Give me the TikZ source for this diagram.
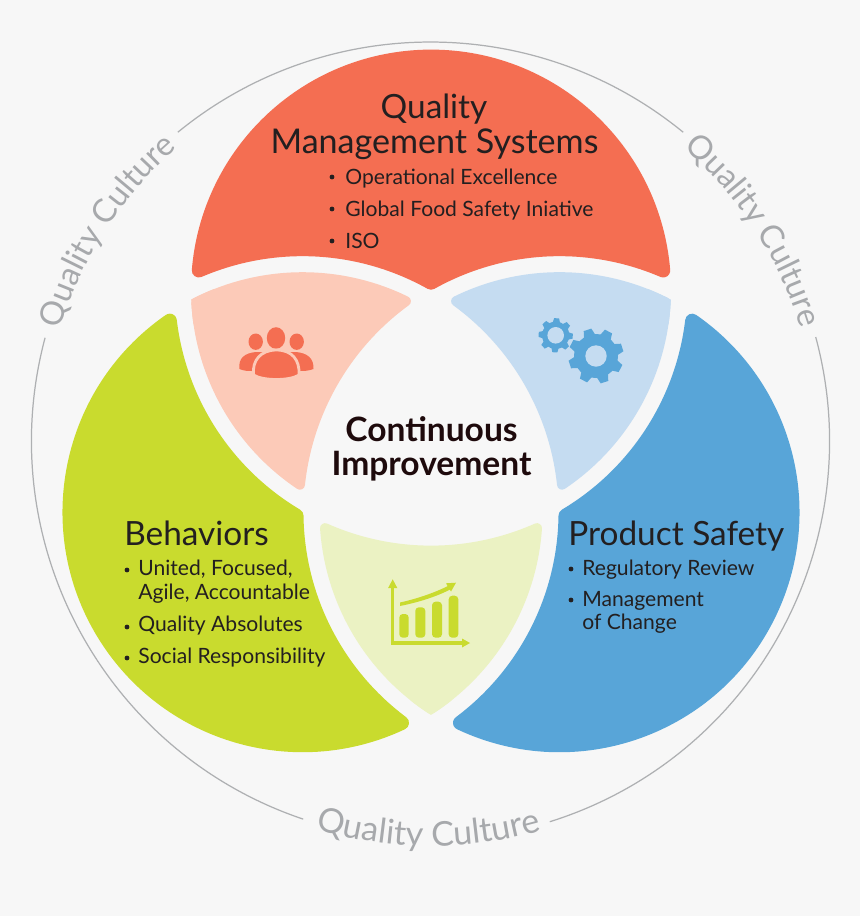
\documentclass[tikz,border=0pt]{standalone}
\usepackage{fontspec}
\usepackage{xcolor}
\setmainfont{Lato}
\usepackage{tikz}
\usetikzlibrary{decorations.text}

\definecolor{pagecol}{HTML}{F7F7F7}
\definecolor{redmain}{HTML}{F46E52}
\definecolor{redlight}{HTML}{FCCAB8}
\definecolor{greenmain}{HTML}{C9DB2E}
\definecolor{greenlight}{HTML}{EBF2C3}
\definecolor{bluemain}{HTML}{58A5D8}
\definecolor{bluelight}{HTML}{C5DCF1}
\definecolor{ringcol}{HTML}{AEB0B2}
\definecolor{ringink}{HTML}{A7A9AC}
\definecolor{inkcol}{HTML}{231F20}
\definecolor{corecol}{HTML}{1E0A0C}

\pgfmathsetmacro{\thA}{acos((2.57^2+2.33^2-2.63^2)/(2*2.57*2.33))}
\pgfmathsetmacro{\thB}{acos((2.57^2+2.63^2-2.33^2)/(2*2.57*2.63))}
\pgfmathsetmacro{\phB}{acos(2.57/(2*2.63))}
\pgfmathsetmacro{\thC}{acos((2.57^2+2.35^2-2.61^2)/(2*2.57*2.35))}
\pgfmathsetmacro{\thD}{acos((2.57^2+2.61^2-2.35^2)/(2*2.57*2.61))}
\pgfmathsetmacro{\phC}{acos(2.57/(2*2.35))}

\tikzset{
	blob/.style={line width=.28cm, line join=round},
	softblob/.style={line width=.2cm, line join=round},
	ringline/.style={draw=ringcol, line width=.7pt},
	ringtext/.style={decorate, decoration={text along path, text align=center,
		text={|\fontsize{#1}{20}\selectfont\color{ringink}|Quality Culture}}},
	heading/.style={anchor=base, inner sep=0pt, text=inkcol, font=\fontsize{19}{21}\selectfont},
	listline/.style={anchor=base west, inner sep=0pt, text=inkcol, font=\fontsize{12}{14}\selectfont},
	coreline/.style={anchor=base, inner sep=0pt, text=corecol, font=\bfseries\fontsize{19.1}{21}\selectfont},
}

\begin{document}
\begin{tikzpicture}[x=.02cm, y=.02cm]
	\fill[pagecol] (0,-916) rectangle (860,0);
	\useasboundingbox (0,-916) rectangle (860,0);

	\coordinate (ringc) at (430.5,-441);
	\coordinate (venn) at (431,-438);

	% three lobes and the three overlaps
	\foreach \rot/\cmain/\clight in {0/redmain/redlight, -120/bluemain/bluelight, 120/greenmain/greenlight}{
		\begin{scope}[shift={(venn)}, rotate=\rot]
			\coordinate (topc) at (0,148.4);
			\coordinate (leftc) at (-128.5,-74.2);
			\pgfmathsetmacro{\aa}{\thA-60}
			\pgfmathsetmacro{\ab}{240-\thA}
			\pgfmathsetmacro{\ac}{60+\thB}
			\pgfmathsetmacro{\ad}{180-\phB}
			\pgfmathsetmacro{\ae}{120-\thB}
			\fill[\cmain, draw=\cmain, blob] (topc) ++(\aa:233)
				arc[start angle=\aa, end angle=\ab, radius=233]
				arc[start angle=\ac, end angle=\phB, radius=263]
				arc[start angle=\ad, end angle=\ae, radius=263] -- cycle;
			\pgfmathsetmacro{\ba}{60+\phC}
			\pgfmathsetmacro{\bb}{180-\thD}
			\pgfmathsetmacro{\bc}{120+\thD}
			\pgfmathsetmacro{\bd}{300-\thC}
			\pgfmathsetmacro{\be}{240-\phC}
			\fill[\clight, draw=\clight, softblob] (leftc) ++(\ba:235)
				arc[start angle=\ba, end angle=\thC, radius=235]
				arc[start angle=\bb, end angle=\bc, radius=261]
				arc[start angle=\bd, end angle=\be, radius=235] -- cycle;
			\begin{scope}
				\clip (topc) circle (240);
				\clip (leftc) circle (240);
				\fill[\clight] (topc) ++(182.4:240) circle (25);
			\end{scope}
		\end{scope}
	}

	% outer ring
	\draw[ringline] (ringc) ++(50.7:399) arc[start angle=50.7, end angle=129.3, radius=399];
	\draw[ringline] (ringc) ++(165:399) arc[start angle=165, end angle=251.4, radius=399];
	\draw[ringline] (ringc) ++(287.4:399) arc[start angle=287.4, end angle=375.1, radius=399];
	\path[ringtext=18.5] (ringc) ++(177:387) arc[start angle=177, end angle=117, radius=387];
	\path[ringtext=18.5] (ringc) ++(63:387) arc[start angle=63, end angle=3, radius=387];
	\path[ringtext=19.4] (ringc) ++(239.7:405) arc[start angle=239.7, end angle=299.7, radius=405];

	% top lobe text
	\node[heading] (qualityhead) at (434,-118) {Quality};
	\node[heading, font=\fontsize{19.4}{21}\selectfont] (systemshead) at (434.5,-153) {Management Systems};
	\node[listline] (opsline) at (345,-184) {Operational Excellence};
	\node[listline] (foodline) at (345,-216) {Global Food Safety Iniative};
	\node[listline] (isoline) at (345,-248) {ISO};

	% left lobe text
	\node[heading, anchor=base west] (behavhead) at (124,-545) {Behaviors};
	\node[listline] (unitedline) at (138,-575) {United, Focused,};
	\node[listline] (agileline) at (138,-599) {Agile, Accountable};
	\node[listline] (absline) at (138,-631) {Quality Absolutes};
	\node[listline] (socialline) at (138,-663) {Social Responsibility};

	% right lobe text
	\node[heading, anchor=base west] (safetyhead) at (568,-545) {Product Safety};
	\node[listline] (reviewline) at (582,-575) {Regulatory Review};
	\node[listline] (mgmtline) at (582,-606) {Management};
	\node[listline] (changeline) at (582,-629) {of Change};

	\foreach \x/\y in {332/177, 332/209, 332/241, 127/570, 127/627, 127/658, 571/569, 571/600}
		\fill[inkcol] (\x,-\y) circle (2.4);

	% centre
	\node[coreline] (coreone) at (431.5,-441) {Continuous};
	\node[coreline] (coretwo) at (431.5,-475) {Improvement};

	% people icon
	\fill[redmain] (255.7,-341.7) ellipse (7.2 and 8.2);
	\fill[redmain] (296.7,-341.7) ellipse (7.2 and 8.2);
	\fill[redmain] (276,-338) ellipse (9.2 and 10.8);
	\fill[redmain] (239.5,-369) .. controls (238,-358) and (245,-353) .. (256,-352) -- (296,-352)
		.. controls (307,-353) and (314,-358) .. (313.5,-369) .. controls (308,-371) and (304,-371) .. (300,-371)
		-- (252,-371) .. controls (248,-371) and (244,-371) .. (239.5,-369) -- cycle;
	\fill[redmain, draw=redlight, line width=1.6pt] (253.5,-375) .. controls (252,-360) and (261,-350) .. (276.5,-350)
		.. controls (292,-350) and (300,-360) .. (299,-375) .. controls (290,-381) and (263,-381) .. (253.5,-375) -- cycle;

	% gear icon
	\foreach \cx/\cy/\s/\hole/\off in {596/356/1/10.7/18, 555.7/335.3/.62/8.3/42}{
		\begin{scope}[shift={(\cx,-\cy)}, scale=\s]
			\fill[bluemain] (0,0) circle (22);
			\foreach \a in {0,45,...,315}
				\fill[bluemain, rotate=\a+\off] (20,-6) -- (27.5,-4) -- (27.5,4) -- (20,6) -- cycle;
		\end{scope}
		\fill[bluelight] (\cx,-\cy) circle (\hole);
	}

	% chart icon
	\foreach \xa/\xb/\ytop in {399.3/408.7/614, 415.3/425.3/607.3, 432/442/601.7, 448.7/458.3/595.7}
		\fill[greenmain, rounded corners=2] (\xa,-637.7) rectangle (\xb,-\ytop);
	\draw[greenmain, line width=3.5*.567pt] (392.7,-587) -- (392.7,-643) -- (463,-643);
	\fill[greenmain] (392.7,-579.3) -- (397.3,-588) -- (388.1,-588) -- cycle;
	\fill[greenmain] (470,-643) -- (462,-638.5) -- (462,-647.5) -- cycle;
	\fill[greenmain] (400,-602.5) .. controls (420,-598) and (436,-592) .. (449,-585.5)
		-- (451,-589) .. controls (438,-596) and (420,-602) .. (400,-606) -- cycle;
	\fill[greenmain] (456,-582.7) -- (446,-583.3) -- (451,-591.5) -- cycle;
\end{tikzpicture}
\end{document}
